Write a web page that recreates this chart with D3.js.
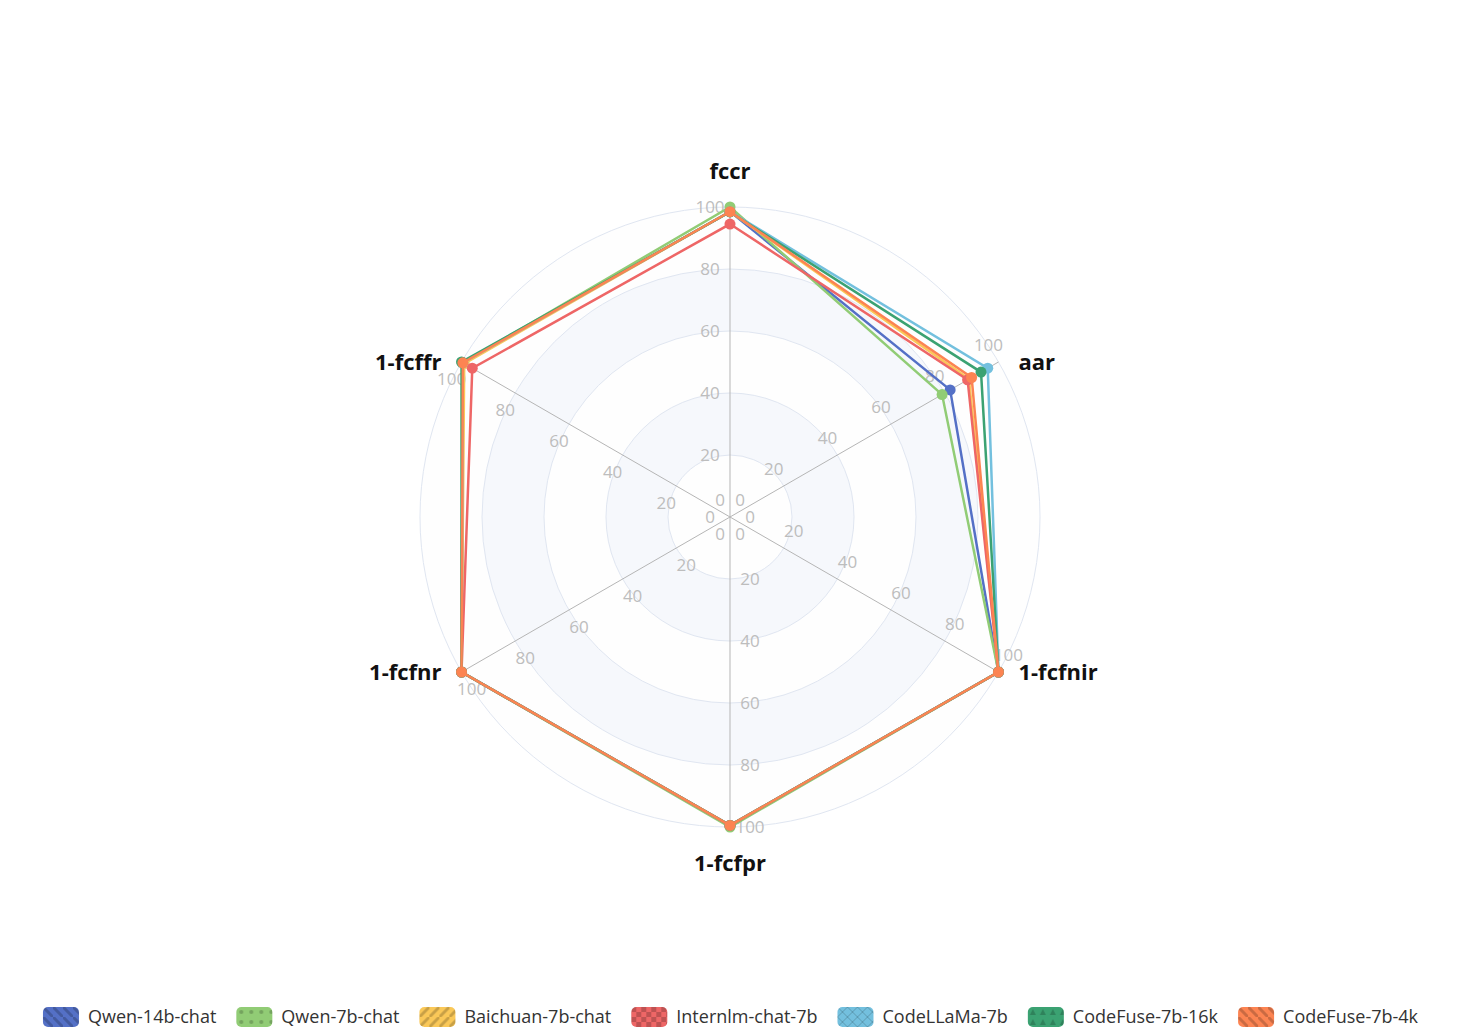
<!DOCTYPE html>
<html><head><meta charset="utf-8">
<script src="https://cdn.jsdelivr.net/npm/d3@7"></script>
<style>body{margin:0;background:#fff;font-family:"Open Sans","Noto Sans",sans-serif}</style>
</head><body><div id="chart"></div>
<script>
var W = 1461, H = 1036, cx = 730, cy = 517, R = 310;

var indicators = ["fccr", "aar", "1-fcfnir", "1-fcfpr", "1-fcfnr", "1-fcffr"];
var ticks = [0, 20, 40, 60, 80, 100];
var models = ["Qwen-14b-chat", "Qwen-7b-chat", "Baichuan-7b-chat", "Internlm-chat-7b", "CodeLLaMa-7b", "CodeFuse-7b-16k", "CodeFuse-7b-4k"];
var colors = ["#5470c6", "#91cc75", "#fac858", "#ee6666", "#73c0de", "#3ba272", "#fc8452"];
var qwen14 = [98.5, 82, 100, 99.5, 100, 99.5];
var qwen7 = [100, 79, 100, 100, 100, 99.5];
var baichuan = [98.5, 89, 100, 99.5, 100, 99];
var internlm = [94.5, 88.5, 100, 99.5, 100, 96];
var codellama = [98.5, 96, 100, 99.5, 100, 99.5];
var codefuse16 = [98.4, 93.5, 100, 99.5, 100, 100];
var codefuse4 = [98.5, 90, 100, 99.5, 100, 99.5];
var series = [qwen14, qwen7, baichuan, internlm, codellama, codefuse16, codefuse4];

var r = d3.scaleLinear().domain([0, 100]).range([0, R]);
function ang(i){ return -Math.PI/2 + i * Math.PI/3; }
function pt(i, v){ return [cx + r(v)*Math.cos(ang(i)), cy + r(v)*Math.sin(ang(i))]; }

var svg = d3.select("#chart").append("svg").attr("width", W).attr("height", H);

// split areas
var bands = svg.append("g");
ticks.slice(1).forEach(function(t, k){
  var arc = d3.arc().innerRadius(r(ticks[k])).outerRadius(r(t)).startAngle(0).endAngle(2*Math.PI);
  bands.append("path").attr("transform", "translate("+cx+","+cy+")").attr("d", arc())
    .attr("fill", k % 2 ? "rgba(210,219,238,0.2)" : "rgba(250,250,250,0.2)");
});
ticks.slice(1).forEach(function(t){
  svg.append("circle").attr("cx", cx).attr("cy", cy).attr("r", r(t))
    .attr("fill", "none").attr("stroke", "#E0E6F1");
});
indicators.forEach(function(name, i){
  var p = pt(i, 100);
  svg.append("line").attr("x1", cx).attr("y1", cy).attr("x2", p[0]).attr("y2", p[1]).attr("stroke", "#b5b5b5");
  var dx = Math.cos(ang(i)), dy = Math.sin(ang(i));
  var px = dy, py = -dx; // perpendicular (left of axis)
  ticks.forEach(function(t){
    var q = pt(i, t);
    svg.append("text").attr("x", q[0] + px*20).attr("y", q[1] + py*20).attr("dy", "0.35em")
      .attr("text-anchor", "middle").attr("fill", "#bdbdbd").attr("font-size", 17).text(t);
  });
  var lp = pt(i, 116);
  var anchor = Math.abs(dx) < 0.1 ? "middle" : (dx > 0 ? "start" : "end");
  var ly = lp[1];
  if (i === 0) ly = cy - R - 36;
  else if (i === 3) ly = cy + R + 36;
  else { ly = p[1]; }
  var lx = Math.abs(dx) < 0.1 ? cx : p[0] + (dx > 0 ? 20 : -20);
  svg.append("text").attr("x", lx).attr("y", ly).attr("dy", "0.35em").attr("text-anchor", anchor)
    .attr("font-size", 22).attr("font-weight", "bold").attr("fill", "#111").text(name);
});

var line = d3.line().curve(d3.curveLinearClosed);
series.forEach(function(vals, s){
  var pts = vals.map(function(v, i){ return pt(i, v); });
  svg.append("path").attr("d", line(pts)).attr("fill", "none").attr("stroke", colors[s]).attr("stroke-width", 2.5);
  svg.selectAll(null).data(pts).enter().append("circle")
    .attr("cx", function(d){ return d[0]; }).attr("cy", function(d){ return d[1]; })
    .attr("r", 5.5).attr("fill", colors[s]);
});

// legend with decal patterns
var defs = svg.append("defs");
models.forEach(function(m, s){
  var pat = defs.append("pattern").attr("id", "p"+s).attr("patternUnits", "userSpaceOnUse")
    .attr("width", 10).attr("height", 10);
  pat.append("rect").attr("width", 10).attr("height", 10).attr("fill", colors[s]);
  var c = "rgba(0,0,0,0.2)";
  if (s === 1) pat.append("circle").attr("cx", 5).attr("cy", 5).attr("r", 2).attr("fill", c);
  else if (s === 3) { pat.append("rect").attr("width", 5).attr("height", 5).attr("fill", c); pat.append("rect").attr("x", 5).attr("y", 5).attr("width", 5).attr("height", 5).attr("fill", c); }
  else if (s === 4) pat.append("path").attr("d", "M0,0L10,10M10,0L0,10").attr("stroke", c);
  else if (s === 5) pat.append("path").attr("d", "M5,2L8,8L2,8Z").attr("fill", c);
  else if (s === 2) pat.append("path").attr("d", "M0,10L10,0").attr("stroke", c).attr("stroke-width", 3);
  else pat.append("path").attr("d", "M0,0L10,10").attr("stroke", c).attr("stroke-width", 3);
});
var leg = svg.append("g");
var x = 0;
models.forEach(function(m, s){
  var g = leg.append("g").attr("transform", "translate("+x+",0)");
  g.append("rect").attr("y", -10).attr("width", 36).attr("height", 20).attr("rx", 5).attr("fill", "url(#p"+s+")");
  var t = g.append("text").attr("x", 45).attr("dy", "0.35em").attr("font-size", 18).attr("fill", "#333").text(m);
  x += 45 + t.node().getComputedTextLength() + 20;
});
leg.attr("transform", "translate(" + ((W - (x - 20))/2) + ",1017)");
</script></body></html>
